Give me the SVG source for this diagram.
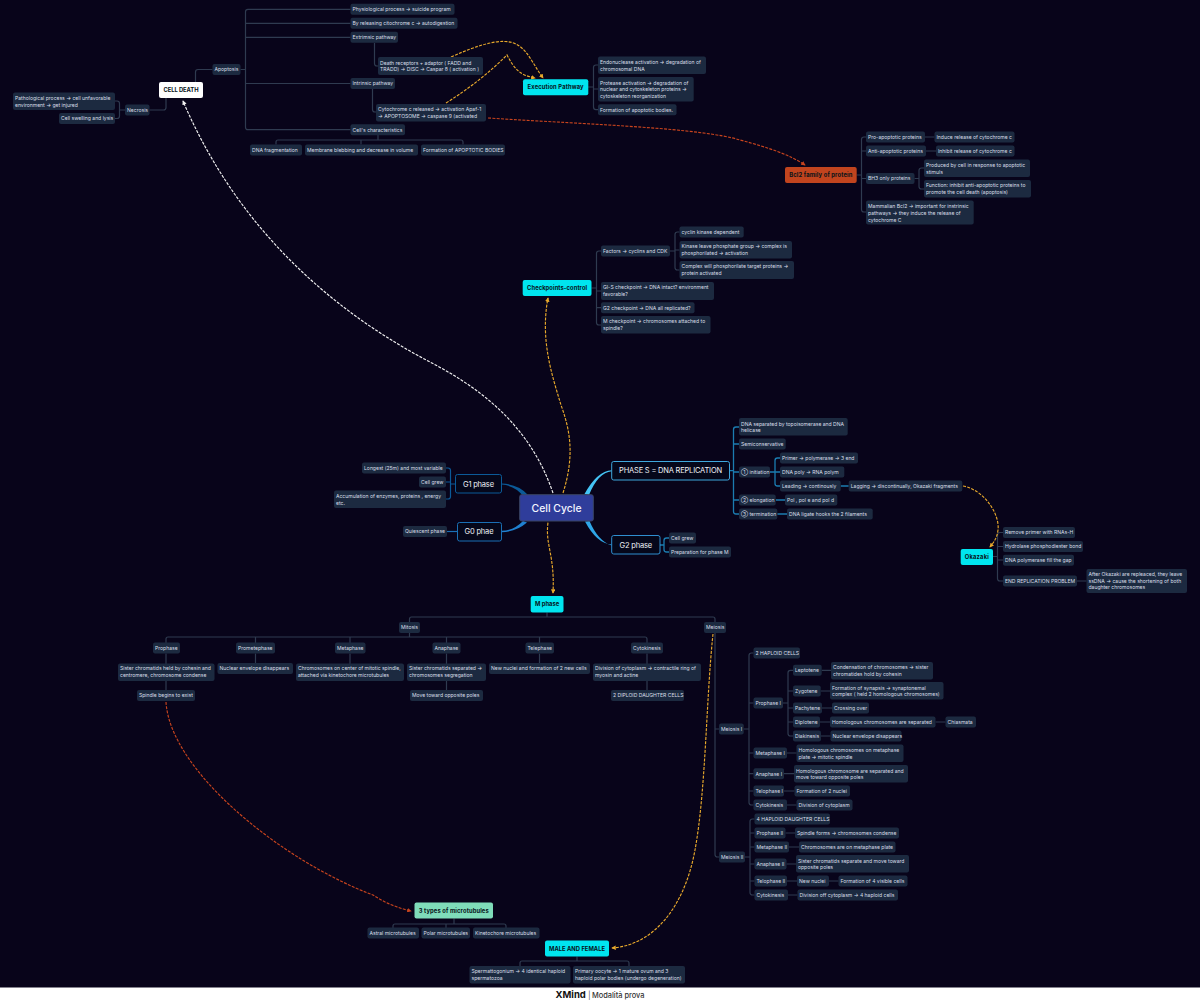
<svg xmlns="http://www.w3.org/2000/svg" width="1200" height="1002" viewBox="0 0 1200 1002">
<style>
text{font-family:"Inter","Liberation Sans",sans-serif}
.b{fill:#1c2a40}
.t{font-size:5.05px;fill:#d9dfe8}
.c{fill:none;stroke:#2f3b50;stroke-width:1.2}
.s{fill:none;stroke:#1b7cb0;stroke-width:1.3}
.g1{fill:none;stroke:#0b5a98;stroke-width:1.2}
.g0{fill:none;stroke:#1a6fb5;stroke-width:1.2}
.r{fill:none;stroke-width:1.15;stroke-dasharray:3 1.3}
.y{stroke:#e8a92c}.w{stroke:#f2f2f2}.o{stroke:#c8441e}
.h{font-size:5.8px;font-weight:700;fill:#07131a;text-anchor:middle}
.m{fill:#05071a;stroke-width:1}
.mt{font-size:7.5px;font-weight:400;fill:#f0f3f7;text-anchor:middle}
</style>
<defs>
<marker id="ay" viewBox="0 0 6 6" refX="5" refY="3" markerWidth="4.5" markerHeight="4.5" markerUnits="userSpaceOnUse" orient="auto"><path d="M0 0L6 3L0 6z" fill="#e8a92c"/></marker>
<marker id="aw" viewBox="0 0 6 6" refX="5" refY="3" markerWidth="4.5" markerHeight="4.5" markerUnits="userSpaceOnUse" orient="auto"><path d="M0 0L6 3L0 6z" fill="#f2f2f2"/></marker>
<marker id="ao" viewBox="0 0 6 6" refX="5" refY="3" markerWidth="4.5" markerHeight="4.5" markerUnits="userSpaceOnUse" orient="auto"><path d="M0 0L6 3L0 6z" fill="#c8441e"/></marker>
</defs>
<rect width="1200" height="1002" fill="#08041a"/>
<g id="connectors">
<path class="c" d="M240.5 69.5H245.5M350.5 9.3H248Q245.5 9.3 245.5 11.8V127.2Q245.5 129.7 248 129.7H350.5M350.5 23.3H245.5M350.5 37.3H245.5M350.5 83.5H245.5M195.5 82V72Q195.5 69.5 198 69.5H212.5M166 98V107.5Q166 110 163.5 110H149.5M125 110H119.5M115 101H117Q119.5 101 119.5 103.5V116Q119.5 118.5 117 118.5H115M374.5 43V63.5Q374.5 66 377 66H378M372.5 89V109.5Q372.5 112 375 112H376M378 135V140M276 144.5V142Q276 140 278 140H461Q463 140 463 142V144.5M361 140V144.5"/>
<path class="c" d="M588 87H593.5M598 65H596Q593.5 65 593.5 67.5V107Q593.5 109.7 596 109.7H598M593.5 89H598M856.7 175H861.5M866 137H864Q861.5 137 861.5 139.5V209.5Q861.5 212 864 212H866M861.5 151H866M861.5 178.5H866M925 137H934.5M926 151H936M914.5 178.5H919M924 168H921.5Q919 168 919 170.5V186.5Q919 189 921.5 189H924M591.5 288H596.5M601 251H599Q596.5 251 596.5 253.5V322.5Q596.5 325 599 325H601M596.5 291H601M596.5 307.7H601M670 251H675M679.5 232H677.5Q675 232 675 234.5V267.5Q675 270 677.5 270H679.5M675 250H679.5"/>
<path class="c" d="M993 556.5H997.5M1003 532.5H1000Q997.5 532.5 997.5 535V578.5Q997.5 581 1000 581H1003M997.5 546.5H1003M997.5 560H1003M1077 581H1086.5"/>
<path class="c" d="M547 612.5V617M409.5 622V619Q409.5 617 411.5 617H713Q715 617 715 619V622M409.5 632.5V637M166 643V639Q166 637 168 637H645Q647 637 647 639V643M255.5 637V643M350 637V643M446.5 637V643M539.5 637V643M166 653.5V664M166 681V690M255.5 653.5V663M350 653.5V664M446.5 653.5V664M446.5 681V690M539.5 653.5V663M647 653.5V664M647 681V690"/>
<path class="c" d="M715 632.5V854.5Q715 857 717.5 857H719M715 729H719M743.7 729H749M753.5 653H751.5Q749 653 749 655.5V802.5Q749 805 751.5 805H753.5M749 703H753.5M749 753H753.5M749 773.7H753.5M749 791H753.5M783 703H788M793 670.3H790.5Q788 670.3 788 672.8V733.5Q788 736 790.5 736H793M788 691H793M788 708H793M788 722H793M821.7 670.3H831M820.7 691H830M822 708H832M820 722H830M935.5 722H945.5M821 736H830.5M787 753H796.5M784 773.7H794M784 791H794.5M787 805H796.5M745 857H750M754.5 819H752.5Q750 819 750 821.5V892.5Q750 895 752.5 895H754.5M750 833H754.5M750 847H754.5M750 864H754.5M750 881H754.5M785.5 833H795M789 847H799M786.5 864H796M787 881H797M829 881H838.5M788 895H797.5"/>
<path class="c" d="M454 918.5V924M393 928V926Q393 924 395 924H504Q506 924 506 926V928M446 924V928M577 956.5V961M520 966V963Q520 961 522 961H627Q629 961 629 963V966"/>
<path class="s" d="M729.5 470.7H733.5M739 427H736Q733.5 427 733.5 429.5V511.5Q733.5 514 736 514H739M733.5 444H739M733.5 472H739M733.5 500H739M770 472H775M780 458H777.5Q775 458 775 460.5V483.5Q775 486 777.5 486H780M775 472H780M840.7 486H848.7M776 500H785M777.3 514H787M660 545H664M669 538H666.5Q664 538 664 540.5V549.5Q664 552 666.5 552H669"/>
<path class="g1" d="M455.5 484H450.5M446 468H448Q450.5 468 450.5 470.5V496.5Q450.5 499 448 499H446M450.5 482H446"/>
<path class="g0" d="M457.5 531.5H447"/>
<path d="M501.5 483.6Q518 484 527.5 494.5L523.5 496.5Q515 485.4 501.5 484.6Z" fill="#0b5a98"/>
<path d="M501.5 530.8Q514 530.5 523 521L527 522.5Q516 532 501.5 532.2Z" fill="#1f80d0"/>
<path d="M611.7 470.2Q597 471 584.5 494L589 495Q598 472.5 611.7 471.2Z" fill="#45c4f5"/>
<path d="M611.7 544.4Q597 544 585 521.5L589.5 521Q598 541 611.7 545.6Z" fill="#2fa6e8"/>
<path class="r w" marker-end="url(#aw)" d="M553 493C530 425 480 388 430 362C340 315 240 235 183 101"/>
<path class="r y" marker-end="url(#ay)" d="M563 493C575 455 570 430 561 405C552 375 540 340 548 298"/>
<path class="r y" marker-end="url(#ay)" d="M548 522.7C545 545 555 555 553 593"/>
<path class="r y" marker-end="url(#ay)" d="M451 57C480 44 495 41 505 41.5C525 42 530 60 543 78"/>
<path class="r y" marker-end="url(#ay)" d="M446 103C470 88 490 72 507 55C515 70 520 75 535 78"/>
<path class="r o" marker-end="url(#ao)" d="M488 118C600 125 700 128 740 140C770 148 790 155 805 165"/>
<path class="r y" marker-end="url(#ay)" d="M963 486C985 490 1000 515 998 530C997 538 994 542 990 547"/>
<path class="r o" marker-end="url(#ao)" d="M166 702C170 770 280 860 373 895C385 903 398 908 411 911"/>
<path class="r y" marker-end="url(#ay)" d="M713 634C706 700 706 790 695 850C685 905 655 945 612 948"/>
</g>
<g id="n-root"><rect x="519.7" y="494.7" width="73.6" height="26.3" rx="2" fill="#2f3d9b" stroke="#3a4563"/><text x="556.5" y="511.5" font-size="10.4" font-weight="500" fill="#f4f6ff" text-anchor="middle" textLength="50">Cell Cycle</text></g>
<g id="n-g1"><rect class="m" x="455.5" y="474.5" width="46" height="18.5" rx="2" stroke="#0b5a98"/><text class="mt" x="478.5" y="486.7" textLength="31">G1 phase</text></g>
<g id="n-g0"><rect class="m" x="457.5" y="522.5" width="44" height="18.5" rx="2" stroke="#1a6fb5"/><text class="mt" x="479" y="534.2" textLength="29">G0 phae</text></g>
<g id="n-s"><rect class="m" x="611.7" y="461.5" width="117.8" height="18.5" rx="2" stroke="#3fa8dc"/><text class="mt" x="670.6" y="473.4" textLength="103">PHASE S = DNA REPLICATION</text></g>
<g id="n-g2"><rect class="m" x="611.7" y="535.5" width="48.3" height="18.5" rx="2" stroke="#2f8fd0"/><text class="mt" x="635.8" y="547.7" textLength="32.7">G2 phase</text></g>
<g id="n-celldeath"><rect x="159" y="82" width="44" height="16" rx="2" fill="#fff"/><text class="h" x="181" y="91.7" textLength="35">CELL DEATH</text></g>
<g id="n-exec"><rect x="523" y="79.3" width="65.3" height="16" rx="2" fill="#00e5ef"/><text class="h" x="555.6" y="89.2" textLength="56">Execution Pathway</text></g>
<g id="n-bcl2"><rect x="785" y="167" width="71.7" height="16" rx="2" fill="#c1441e"/><text class="h" x="820.8" y="177.2" textLength="63">Bcl2 family of protein</text></g>
<g id="n-check"><rect x="522.7" y="280" width="68.8" height="16" rx="2" fill="#00e5ef"/><text class="h" x="557.1" y="290.2" textLength="60">Checkpoints-control</text></g>
<g id="n-m"><rect x="530.7" y="596" width="32.8" height="16.5" rx="2" fill="#00e5ef"/><text class="h" x="547.1" y="606.4" textLength="24">M phase</text></g>
<g id="n-oka"><rect x="960.7" y="549" width="32.3" height="16" rx="2" fill="#00e5ef"/><text class="h" x="976.8" y="558.7" textLength="24">Okazaki</text></g>
<g id="n-3t"><rect x="414.5" y="902.5" width="78.5" height="16" rx="2" fill="#7fdcb9"/><text class="h" x="453.7" y="912.7" textLength="70">3 types of microtubules</text></g>
<g id="n-mf"><rect x="545" y="940.5" width="64" height="16" rx="2" fill="#00e5ef"/><text class="h" x="577" y="950.7" textLength="56">MALE AND FEMALE</text></g>
<g id="d1"><rect class="b" x="350.5" y="3.8" width="104" height="11" rx="2"/><text class="t" x="352.5" y="11.2">Physiological process → suicide program</text></g>
<g id="d2"><rect class="b" x="350.5" y="17.8" width="107" height="11" rx="2"/><text class="t" x="352.5" y="25.2">By releasing citochrome c → autodigestion</text></g>
<g id="d3"><rect class="b" x="350.5" y="31.8" width="47.5" height="11" rx="2"/><text class="t" x="352.5" y="39.2">Extrimsic pathway</text></g>
<g id="d4"><rect class="b" x="378" y="57" width="105" height="18" rx="2"/><text class="t" x="380" y="64.7">Death receptors + adaptor ( FADD and</text><text class="t" x="380" y="71.4">TRADD) → DISC → Caspar 8 ( activation )</text></g>
<g id="d5"><rect class="b" x="350.5" y="78" width="44.5" height="11" rx="2"/><text class="t" x="352.5" y="85.4">Intrinsic pathway</text></g>
<g id="d6"><rect class="b" x="376" y="104" width="110" height="17.5" rx="2"/><text class="t" x="378" y="111">Cytochrome c released → activation Apaf-1</text><text class="t" x="378" y="117.7">→ APOPTOSOME → caspase 9 (activated</text></g>
<g id="d7"><rect class="b" x="350.5" y="124.2" width="54.5" height="11" rx="2"/><text class="t" x="352.5" y="131.6">Cell's characteristics</text></g>
<g id="d8"><rect class="b" x="250" y="144.5" width="52" height="11" rx="2"/><text class="t" x="252" y="151.9">DNA fragmentation</text></g>
<g id="d9"><rect class="b" x="305" y="144.5" width="113" height="11" rx="2"/><text class="t" x="307" y="151.9">Membrane blebbing and decrease in volume</text></g>
<g id="d10"><rect class="b" x="421" y="144.5" width="84" height="11" rx="2"/><text class="t" x="423" y="151.9">Formation of APOPTOTIC BODIES</text></g>
<g id="d11"><rect class="b" x="212.5" y="64" width="28" height="11" rx="2"/><text class="t" x="214.5" y="71.4">Apoptosis</text></g>
<g id="d12"><rect class="b" x="125" y="104.5" width="24.5" height="11" rx="2"/><text class="t" x="127" y="111.9">Necrosis</text></g>
<g id="d13"><rect class="b" x="13" y="92.5" width="102" height="17.5" rx="2"/><text class="t" x="15" y="99.9">Pathological process → cell unfavorable</text><text class="t" x="15" y="106.6">environment → get injured</text></g>
<g id="d14"><rect class="b" x="59" y="113" width="56" height="11" rx="2"/><text class="t" x="61" y="120.4">Cell swelling and lysis</text></g>
<g id="e1"><rect class="b" x="598" y="56.5" width="108" height="17.5" rx="2"/><text class="t" x="600" y="63.6">Endonuclease activation → degradation of</text><text class="t" x="600" y="70.6">chromosomal DNA</text></g>
<g id="e2"><rect class="b" x="598" y="77" width="95.7" height="24.5" rx="2"/><text class="t" x="600" y="84.6">Protease activation → degradation of</text><text class="t" x="600" y="91">nuclear and cytoskeleton proteins →</text><text class="t" x="600" y="97.9">cytoskeleton reorganization</text></g>
<g id="e3"><rect class="b" x="598" y="104.2" width="78.5" height="11" rx="2"/><text class="t" x="600" y="111.6">Formation of apoptotic bodies.</text></g>
<g id="b1"><rect class="b" x="866" y="131.5" width="59" height="11" rx="2"/><text class="t" x="868" y="138.9">Pro-apoptotic proteins</text></g>
<g id="b2"><rect class="b" x="934.5" y="131.5" width="80" height="11" rx="2"/><text class="t" x="936.5" y="138.9">Induce release of cytochrome c</text></g>
<g id="b3"><rect class="b" x="866" y="145.5" width="60" height="11" rx="2"/><text class="t" x="868" y="152.9">Anti-apoptotic proteins</text></g>
<g id="b4"><rect class="b" x="936" y="145.5" width="78.5" height="11" rx="2"/><text class="t" x="938" y="152.9">Inhibit release of cytochrome c</text></g>
<g id="b5"><rect class="b" x="866" y="173" width="48.5" height="11" rx="2"/><text class="t" x="868" y="180.4">BH3 only proteins</text></g>
<g id="b6"><rect class="b" x="924" y="159.5" width="106" height="17.5" rx="2"/><text class="t" x="926" y="166.9">Produced by cell in response to apoptotic</text><text class="t" x="926" y="173.6">stimuls</text></g>
<g id="b7"><rect class="b" x="924" y="180" width="107" height="17.5" rx="2"/><text class="t" x="926" y="187.4">Function: inhibit anti-apoptotic proteins to</text><text class="t" x="926" y="193.9">promote the cell death (apoptosis)</text></g>
<g id="b8"><rect class="b" x="866" y="200.5" width="107.7" height="24" rx="2"/><text class="t" x="868" y="207.9">Mammalian Bcl2 → important for instrinsic</text><text class="t" x="868" y="214.9">pathways -&gt; they induce the release of</text><text class="t" x="868" y="221.6">cytochrome C</text></g>
<g id="c1"><rect class="b" x="601" y="245.5" width="69" height="11" rx="2"/><text class="t" x="603" y="252.9">Factors → cyclins and CDK</text></g>
<g id="c2"><rect class="b" x="679.5" y="226.5" width="64.2" height="11" rx="2"/><text class="t" x="681.5" y="233.9">cyclin kinase dependent</text></g>
<g id="c3"><rect class="b" x="679.5" y="241" width="112.5" height="17.5" rx="2"/><text class="t" x="681.5" y="247.9">Kinase leave phosphate group → complex is</text><text class="t" x="681.5" y="254.9">phosphorilated → activation</text></g>
<g id="c4"><rect class="b" x="679.5" y="261" width="114.5" height="18" rx="2"/><text class="t" x="681.5" y="268.4">Complex will phosphorilate target proteins →</text><text class="t" x="681.5" y="274.9">protein activated</text></g>
<g id="c5"><rect class="b" x="601" y="282" width="113" height="18" rx="2"/><text class="t" x="603" y="288.9">GI-S checkpoint → DNA intact? environment</text><text class="t" x="603" y="295.9">favorable?</text></g>
<g id="c6"><rect class="b" x="601" y="302.2" width="93.5" height="11" rx="2"/><text class="t" x="603" y="309.6">G2 checkpoint → DNA all replicated?</text></g>
<g id="c7"><rect class="b" x="601" y="316" width="109.5" height="17.5" rx="2"/><text class="t" x="603" y="323.4">M checkpoint → chromosomes attached to</text><text class="t" x="603" y="329.9">spindle?</text></g>
<g id="g1"><rect class="b" x="362" y="462.5" width="84" height="11" rx="2"/><text class="t" x="364" y="469.9">Longest (25m) and most variable</text></g>
<g id="g2"><rect class="b" x="419" y="476.5" width="27" height="11" rx="2"/><text class="t" x="421" y="483.9">Cell grew</text></g>
<g id="g3"><rect class="b" x="334" y="490.5" width="112" height="17.5" rx="2"/><text class="t" x="336" y="497.9">Accumulation of enzymes, proteins , energy</text><text class="t" x="336" y="504.9">etc.</text></g>
<g id="g4"><rect class="b" x="403" y="526" width="44" height="11" rx="2"/><text class="t" x="405" y="533.4">Quiescent phase</text></g>
<g id="s1"><rect class="b" x="739" y="418" width="108.7" height="17.5" rx="2"/><text class="t" x="741" y="425.6">DNA separated by topoisomerase and DNA</text><text class="t" x="741" y="431.9">helicase</text></g>
<g id="s2"><rect class="b" x="739" y="438.5" width="46.7" height="11" rx="2"/><text class="t" x="741" y="445.9">Semiconservative</text></g>
<g id="s3"><rect class="b" x="739" y="466.5" width="31" height="11" rx="2"/><text class="t" x="741" y="473.9">① initiation</text></g>
<g id="s4"><rect class="b" x="780" y="452.5" width="78" height="11" rx="2"/><text class="t" x="782" y="459.9">Primer → polymerase → 3 end</text></g>
<g id="s5"><rect class="b" x="780" y="466.5" width="64.3" height="11" rx="2"/><text class="t" x="782" y="473.9">DNA poly → RNA polym</text></g>
<g id="s6"><rect class="b" x="780" y="480.5" width="60.7" height="11" rx="2"/><text class="t" x="782" y="487.9">Leading → continously</text></g>
<g id="s7"><rect class="b" x="848.7" y="480.5" width="113.6" height="11" rx="2"/><text class="t" x="850.7" y="487.9">Lagging → discontinually, Okazaki fragments</text></g>
<g id="s8"><rect class="b" x="739" y="494.5" width="36.7" height="11" rx="2"/><text class="t" x="741" y="501.9">② elongation</text></g>
<g id="s9"><rect class="b" x="785" y="494.5" width="52.3" height="11" rx="2"/><text class="t" x="787" y="501.9">Pol , pol e and pol d</text></g>
<g id="s10"><rect class="b" x="739" y="508.5" width="38.3" height="11" rx="2"/><text class="t" x="741" y="515.9">③ termination</text></g>
<g id="s11"><rect class="b" x="787" y="508.5" width="85.7" height="11" rx="2"/><text class="t" x="789" y="515.9">DNA ligate hooks the 2 filaments</text></g>
<g id="s12"><rect class="b" x="669" y="532.5" width="27" height="11" rx="2"/><text class="t" x="671" y="539.9">Cell grew</text></g>
<g id="s13"><rect class="b" x="669" y="546.5" width="62" height="11" rx="2"/><text class="t" x="671" y="553.9">Preparation for phase M</text></g>
<g id="o1"><rect class="b" x="1003" y="527" width="72" height="11" rx="2"/><text class="t" x="1005" y="534.4">Remove primer with RNAs-H</text></g>
<g id="o2"><rect class="b" x="1003" y="541" width="80" height="11" rx="2"/><text class="t" x="1005" y="548.4">Hydrolase phosphodiester bond</text></g>
<g id="o3"><rect class="b" x="1003" y="554.7" width="71" height="11" rx="2"/><text class="t" x="1005" y="562.1">DNA polymerase fill the gap</text></g>
<g id="o4"><rect class="b" x="1003" y="575.5" width="74" height="11" rx="2"/><text class="t" x="1005" y="582.9">END REPLICATION PROBLEM</text></g>
<g id="o5"><rect class="b" x="1086.5" y="569" width="100.5" height="24" rx="2"/><text class="t" x="1088.5" y="575.9">After Okazaki are repleaced, they leave</text><text class="t" x="1088.5" y="582.9">ssDNA → cause the shortening of both</text><text class="t" x="1088.5" y="589.4">daughter chromosomes</text></g>
<g id="m1"><rect class="b" x="399" y="622" width="21" height="11" rx="2"/><text class="t" x="401" y="629.4">Mitosis</text></g>
<g id="m2"><rect class="b" x="704" y="622" width="22" height="11" rx="2"/><text class="t" x="706" y="629.4">Meiosis</text></g>
<g id="m3"><rect class="b" x="153" y="642.5" width="27" height="11" rx="2"/><text class="t" x="155" y="649.9">Prophase</text></g>
<g id="m4"><rect class="b" x="236" y="642.5" width="39" height="11" rx="2"/><text class="t" x="238" y="649.9">Prometephase</text></g>
<g id="m5"><rect class="b" x="335" y="642.5" width="30.5" height="11" rx="2"/><text class="t" x="337" y="649.9">Metaphase</text></g>
<g id="m6"><rect class="b" x="432.5" y="642.5" width="28" height="11" rx="2"/><text class="t" x="434.5" y="649.9">Anaphase</text></g>
<g id="m7"><rect class="b" x="525.5" y="642.5" width="28.5" height="11" rx="2"/><text class="t" x="527.5" y="649.9">Telephase</text></g>
<g id="m8"><rect class="b" x="631" y="642.5" width="32" height="11" rx="2"/><text class="t" x="633" y="649.9">Cytokinesis</text></g>
<g id="m9"><rect class="b" x="118" y="663.5" width="96.5" height="17.5" rx="2"/><text class="t" x="120" y="670.4">Sister chromatids held by cohesin and</text><text class="t" x="120" y="676.9">centromere, chromosome condense</text></g>
<g id="m10"><rect class="b" x="217.5" y="663" width="75.5" height="11" rx="2"/><text class="t" x="219.5" y="670.4">Nuclear envelope disappears</text></g>
<g id="m11"><rect class="b" x="296" y="663.5" width="108" height="17.5" rx="2"/><text class="t" x="298" y="670.4">Chromosomes on center of mitotic spindle,</text><text class="t" x="298" y="676.9">attached via kinetochore microtubules</text></g>
<g id="m12"><rect class="b" x="137" y="690" width="58" height="11" rx="2"/><text class="t" x="139" y="697.4">Spindle begins to exist</text></g>
<g id="m13"><rect class="b" x="407" y="663.5" width="79" height="17.5" rx="2"/><text class="t" x="409" y="670.4">Sister chromatids separated →</text><text class="t" x="409" y="676.9">chromosomes segregation</text></g>
<g id="m14"><rect class="b" x="489" y="663" width="101" height="11" rx="2"/><text class="t" x="491" y="670.4">New nuclei and formation of 2 new cells</text></g>
<g id="m15"><rect class="b" x="593" y="663.5" width="108" height="17.5" rx="2"/><text class="t" x="595" y="670.4">Division of cytoplasm → contractile ring of</text><text class="t" x="595" y="676.9">myosin and actine</text></g>
<g id="m16"><rect class="b" x="410" y="690" width="73" height="11" rx="2"/><text class="t" x="412" y="697.4">Move toward opposite poles</text></g>
<g id="m17"><rect class="b" x="611" y="690" width="73" height="11" rx="2"/><text class="t" x="613" y="697.4">2 DIPLOID DAUGHTER CELLS</text></g>
<g id="i1"><rect class="b" x="719" y="723.5" width="24.7" height="11" rx="2"/><text class="t" x="721" y="730.9">Meiosis I</text></g>
<g id="i2"><rect class="b" x="753.5" y="647.5" width="46.5" height="11" rx="2"/><text class="t" x="755.5" y="654.9">2 HAPLOID CELLS</text></g>
<g id="i3"><rect class="b" x="753.5" y="697.5" width="29.5" height="11" rx="2"/><text class="t" x="755.5" y="704.9">Prophase I</text></g>
<g id="i4"><rect class="b" x="793" y="664.8" width="28.7" height="11" rx="2"/><text class="t" x="795" y="672.2">Leptotene</text></g>
<g id="i5"><rect class="b" x="831" y="662" width="102" height="17.5" rx="2"/><text class="t" x="833" y="668.9">Condensation of chromosomes → sister</text><text class="t" x="833" y="675.6">chromatides hold by cohesin</text></g>
<g id="i6"><rect class="b" x="793" y="685.5" width="27.7" height="11" rx="2"/><text class="t" x="795" y="692.9">Zygotene</text></g>
<g id="i7"><rect class="b" x="830" y="682" width="113.5" height="17.5" rx="2"/><text class="t" x="832" y="689.6">Formation of synapsis → synaptonemal</text><text class="t" x="832" y="695.9">complex ( held 2 homologous chromosomes)</text></g>
<g id="i8"><rect class="b" x="793" y="702.5" width="29" height="11" rx="2"/><text class="t" x="795" y="709.9">Pachytene</text></g>
<g id="i9"><rect class="b" x="832" y="702.5" width="37" height="11" rx="2"/><text class="t" x="834" y="709.9">Crossing over</text></g>
<g id="i10"><rect class="b" x="793" y="716.5" width="27" height="11" rx="2"/><text class="t" x="795" y="723.9">Diplotene</text></g>
<g id="i11"><rect class="b" x="830" y="716.5" width="105.5" height="11" rx="2"/><text class="t" x="832" y="723.9">Homologous chromosomes are separated</text></g>
<g id="i12"><rect class="b" x="945.5" y="716.5" width="30.5" height="11" rx="2"/><text class="t" x="947.5" y="723.9">Chiasmata</text></g>
<g id="i13"><rect class="b" x="793" y="730.5" width="28" height="11" rx="2"/><text class="t" x="795" y="737.9">Diakinesis</text></g>
<g id="i14"><rect class="b" x="830.5" y="730.5" width="71" height="11" rx="2"/><text class="t" x="832.5" y="737.9">Nuclear envelope disappears</text></g>
<g id="i15"><rect class="b" x="753.5" y="747.5" width="33.5" height="11" rx="2"/><text class="t" x="755.5" y="754.9">Metaphase I</text></g>
<g id="i16"><rect class="b" x="796.5" y="744.5" width="107" height="17.5" rx="2"/><text class="t" x="798.5" y="751.6">Homologous chromosomes on metaphase</text><text class="t" x="798.5" y="758.6">plate → mitotic spindle</text></g>
<g id="i17"><rect class="b" x="753.5" y="768.2" width="30.5" height="11" rx="2"/><text class="t" x="755.5" y="775.6">Anaphase I</text></g>
<g id="i18"><rect class="b" x="794" y="765" width="114" height="17.5" rx="2"/><text class="t" x="796" y="772.6">Homologous chromosome are separated and</text><text class="t" x="796" y="778.9">move toward opposite poles</text></g>
<g id="i19"><rect class="b" x="753.5" y="785.5" width="30.5" height="11" rx="2"/><text class="t" x="755.5" y="792.9">Telophase I</text></g>
<g id="i20"><rect class="b" x="794.5" y="785.5" width="55.5" height="11" rx="2"/><text class="t" x="796.5" y="792.9">Formation of 2 nuclei</text></g>
<g id="i21"><rect class="b" x="753.5" y="799.5" width="33.5" height="11" rx="2"/><text class="t" x="755.5" y="806.9">Cytokinesis</text></g>
<g id="i22"><rect class="b" x="796.5" y="799.5" width="56" height="11" rx="2"/><text class="t" x="798.5" y="806.9">Division of cytoplasm</text></g>
<g id="j1"><rect class="b" x="719" y="851.5" width="26" height="11" rx="2"/><text class="t" x="721" y="858.9">Meiosis II</text></g>
<g id="j2"><rect class="b" x="754.5" y="813.5" width="75.5" height="11" rx="2"/><text class="t" x="756.5" y="820.9">4 HAPLOID DAUGHTER CELLS</text></g>
<g id="j3"><rect class="b" x="754.5" y="827.5" width="31" height="11" rx="2"/><text class="t" x="756.5" y="834.9">Prophase II</text></g>
<g id="j4"><rect class="b" x="795" y="827.5" width="104" height="11" rx="2"/><text class="t" x="797" y="834.9">Spindle forms → chromosomes condense</text></g>
<g id="j5"><rect class="b" x="754.5" y="841.5" width="34.5" height="11" rx="2"/><text class="t" x="756.5" y="848.9">Metaphase II</text></g>
<g id="j6"><rect class="b" x="799" y="841.5" width="96.5" height="11" rx="2"/><text class="t" x="801" y="848.9">Chromosomes are on metaphase plate</text></g>
<g id="j7"><rect class="b" x="754.5" y="858.5" width="32" height="11" rx="2"/><text class="t" x="756.5" y="865.9">Anaphase II</text></g>
<g id="j8"><rect class="b" x="796" y="855" width="113" height="17.5" rx="2"/><text class="t" x="798" y="862.9">Sister chromatids separate and move toward</text><text class="t" x="798" y="869.4">opposite poles</text></g>
<g id="j9"><rect class="b" x="754.5" y="875.5" width="32.5" height="11" rx="2"/><text class="t" x="756.5" y="882.9">Telophase II</text></g>
<g id="j10"><rect class="b" x="797" y="875.5" width="32" height="11" rx="2"/><text class="t" x="799" y="882.9">New nuclei</text></g>
<g id="j11"><rect class="b" x="838.5" y="875.5" width="69" height="11" rx="2"/><text class="t" x="840.5" y="882.9">Formation of 4 visible cells</text></g>
<g id="j12"><rect class="b" x="754.5" y="889.5" width="33.5" height="11" rx="2"/><text class="t" x="756.5" y="896.9">Cytokinesis</text></g>
<g id="j13"><rect class="b" x="797.5" y="889.5" width="100.5" height="11" rx="2"/><text class="t" x="799.5" y="896.9">Division off cytoplasm → 4 haploid cells</text></g>
<g id="k1"><rect class="b" x="367.5" y="927.5" width="51.5" height="11" rx="2"/><text class="t" x="369.5" y="934.9">Astral microtubules</text></g>
<g id="k2"><rect class="b" x="421.5" y="927.5" width="48.5" height="11" rx="2"/><text class="t" x="423.5" y="934.9">Polar microtubules</text></g>
<g id="k3"><rect class="b" x="473" y="927.5" width="66.5" height="11" rx="2"/><text class="t" x="475" y="934.9">Kinetochore microtubules</text></g>
<g id="k4"><rect class="b" x="469.5" y="966" width="101" height="17.5" rx="2"/><text class="t" x="471.5" y="972.9">Spermattogonium → 4 identical haploid</text><text class="t" x="471.5" y="979.9">spermatozoa</text></g>
<g id="k5"><rect class="b" x="573" y="966" width="112" height="17.5" rx="2"/><text class="t" x="575" y="972.9">Primary oocyte → 1 mature ovum and 3</text><text class="t" x="575" y="979.9">haploid polar bodies (undergo degeneration)</text></g>
<g id="footer"><rect x="0" y="987.5" width="1200" height="14.5" fill="#fff"/><text x="555.5" y="998" font-size="9.5" font-weight="700" fill="#111">XMind</text><text x="588" y="998" font-size="8" fill="#666">|</text><text x="592" y="997.5" font-size="7.4" font-weight="500" fill="#333">Modalità prova</text></g>
</svg>
